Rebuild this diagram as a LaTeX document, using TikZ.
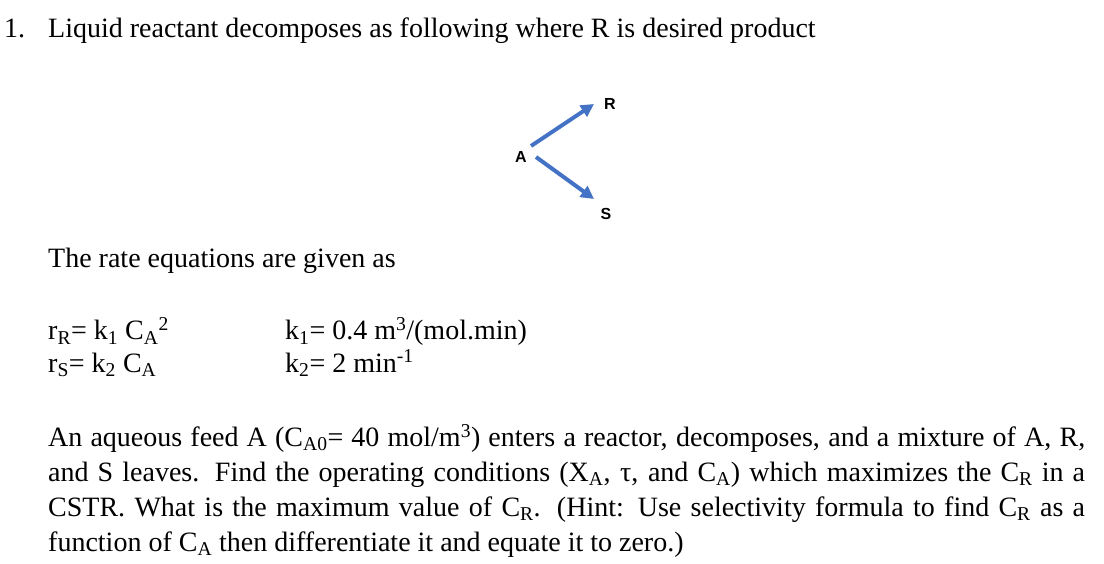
\documentclass[tikz,border=0pt]{standalone}
\usepackage{fontspec}
\setmainfont{Liberation Serif}
\newfontfamily\lab{Liberation Sans}
\usetikzlibrary{arrows.meta}
\definecolor{arr}{RGB}{68,114,196}
\newcommand{\lo}[1]{\textsubscript{#1}}
\newcommand{\hi}[1]{\textsuperscript{#1}}
\tikzset{txt/.style={anchor=base west,inner sep=0pt,font=\fontsize{28}{35}\selectfont},
 lbl/.style={inner sep=0pt,font=\lab\bfseries\fontsize{16}{18}\selectfont},
 rx/.style={draw=arr,line width=4pt,-{Triangle[length=13pt,width=13pt]}}}
\begin{document}
\begin{tikzpicture}[x=1pt,y=1pt]
\useasboundingbox[fill=white] (0,0) rectangle (1104,-564);
\node[txt] (n1) at (4,-38) {1.};
\node[txt] (t1) at (48,-38) {Liquid reactant decomposes as following where R is desired product};
\node[lbl] (A) at (521,-157) {A};
\node[lbl] (R) at (610,-104) {R};
\node[lbl] (S) at (606,-214) {S};
\coordinate (a1) at (531,-146); \coordinate (a2) at (536,-157);
\coordinate (r1) at (594,-104); \coordinate (s1) at (594,-199);
\draw[rx] (a1) -- (r1);
\draw[rx] (a2) -- (s1);
\node[txt] (t2) at (48,-268) {The rate equations are given as};
\node[txt] (e1) at (48,-340) {r\lo{R}= k\lo{1} C\lo{A}\hi{2}};
\node[txt] (e2) at (48,-372) {r\lo{S}= k\lo{2} C\lo{A}};
\node[txt] (e3) at (285,-340) {k\lo{1}= 0.4 m\hi{3}/(mol.min)};
\node[txt] (e4) at (285,-372) {k\lo{2}= 2 min\hi{-1}};
\node[anchor=north west,inner sep=0pt,text width=1037pt,align=justify,font=\fontsize{28}{35}\selectfont] (p) at (48,-424)
{An aqueous feed A (C\lo{A0}= 40 mol/m\hi{3}) enters a reactor, decomposes, and a mixture of A, R,\linebreak and S leaves. Find the operating conditions (X\lo{A}, τ, and C\lo{A}) which maximizes the C\lo{R} in a\linebreak CSTR. What is the maximum value of C\lo{R}. (Hint: Use selectivity formula to find C\lo{R} as a\linebreak function of C\lo{A} then differentiate it and equate it to zero.)};
\end{tikzpicture}
\end{document}
